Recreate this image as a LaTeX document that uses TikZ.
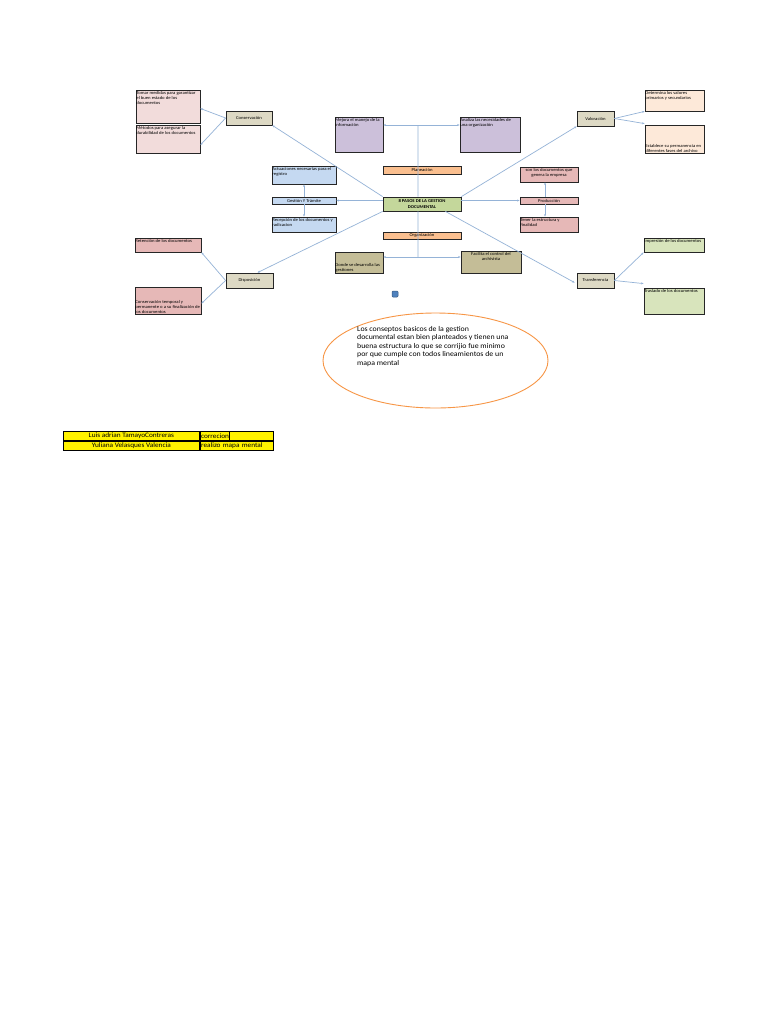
\documentclass[tikz,border=0pt]{standalone}
\usepackage{fontspec}
\setmainfont{Carlito}
\newfontfamily\wideC[FakeStretch=1.08]{Carlito}
\usetikzlibrary{arrows.meta}
\definecolor{cTan}{HTML}{DDD9C4}
\definecolor{cPinkL}{HTML}{F2DCDB}
\definecolor{cLav}{HTML}{CCC0DA}
\definecolor{cOrange}{HTML}{FABF8F}
\definecolor{cBlue}{HTML}{C5D9F1}
\definecolor{cGreen}{HTML}{C4D79B}
\definecolor{cKhaki}{HTML}{C4BD97}
\definecolor{cPeach}{HTML}{FDE9D9}
\definecolor{cPink}{HTML}{E6B8B7}
\definecolor{cGreenL}{HTML}{D8E4BC}
\definecolor{cLine}{HTML}{95B3D7}
\definecolor{cEll}{HTML}{F79646}
\definecolor{cSq}{HTML}{4F81BD}
\tikzset{
  bf/.style={font=\wideC\fontsize{4.4}{5}\selectfont},
  box/.style={draw=black!85, line width=0.8bp, inner sep=0pt, rectangle},
  tl/.style={bf, anchor=north west, inner xsep=0.6bp, inner ysep=1.2bp, align=left},
  bl/.style={bf, anchor=south west, inner xsep=0.6bp, inner ysep=0.8bp, align=left},
  ctr/.style={bf, anchor=center, inner sep=0pt, align=center},
  ct/.style={bf, anchor=north, inner xsep=0.6bp, inner ysep=1.2bp, align=center},
  conn/.style={draw=cLine, line width=0.7bp, -{Stealth[length=2.5bp,width=2bp]}},
  plain/.style={draw=cLine, line width=0.7bp},
  cell/.style={draw=black, line width=0.7bp, fill=yellow, inner sep=0pt, minimum height=9bp, font=\wideC\fontsize{6.8}{8}\selectfont},
}
\begin{document}
\begin{tikzpicture}[x=1bp,y=-1bp]
\useasboundingbox[fill=white] (0,0) rectangle (768,1024);

% ---------- boxes ----------
\node[box, fill=cTan, minimum width=46bp, minimum height=14bp] (cons) at (249,118) {};
\node[ctr] (cons-t) at (cons.center) {Conservación};
\node[box, fill=cPinkL, minimum width=64bp, minimum height=33bp] (tomar) at (168,106.5) {};
\node[tl] (tomar-t) at (tomar.north west) {Tomar medidas para garantizar\\el buen estado de los\\documentos};
\node[box, fill=cPinkL, minimum width=64bp, minimum height=28bp] (metodos) at (168,139) {};
\node[tl] (metodos-t) at (metodos.north west) {Métodos para asegurar la\\durabilidad de los documentos};

\node[box, fill=cLav, minimum width=48bp, minimum height=35bp] (mejora) at (359,134.5) {};
\node[tl] (mejora-t) at (mejora.north west) {Mejora el manejo de la\\información};
\node[box, fill=cLav, minimum width=60bp, minimum height=35bp] (analiza) at (490,134.5) {};
\node[tl] (analiza-t) at (analiza.north west) {Analiza las necesidades de\\una organización};

\node[box, fill=cOrange, minimum width=78bp, minimum height=8bp] (plan) at (422,170) {};
\node[ctr] (plan-t) at (plan.center) {Planeación};

\node[box, fill=cBlue, minimum width=64bp, minimum height=18bp] (actu) at (304,175) {};
\node[tl] (actu-t) at (actu.north west) {Actuaciones necesarias para el\\registro};
\node[box, fill=cBlue, minimum width=64bp, minimum height=7bp] (gest) at (304,200.5) {};
\node[ctr] (gest-t) at (gest.center) {Gestión Y Trámite};
\node[box, fill=cBlue, minimum width=64bp, minimum height=15bp] (recep) at (304,224.5) {};
\node[tl] (recep-t) at (recep.north west) {Recepción de los documentos y\\radicacion};

\node[box, fill=cGreen, minimum width=78bp, minimum height=14bp] (central) at (422,204) {};
\node[ctr, font=\wideC\fontsize{4.4}{5.2}\selectfont\bfseries] (central-t) at (central.center) {8 PASOS DE LA GESTION\\DOCUMENTAL};

\node[box, fill=cOrange, minimum width=78bp, minimum height=7bp] (org) at (422,235.5) {};
\node[ctr] (org-t) at (org.center) {Organización};

\node[box, fill=cKhaki, minimum width=48bp, minimum height=21bp] (donde) at (359,262.5) {};
\node[bl] (donde-t) at (donde.south west) {Donde se desarrolla las\\gestiones};
\node[box, fill=cKhaki, minimum width=60bp, minimum height=22bp] (facil) at (491,262) {};
\node[ct] (facil-t) at (facil.north) {Facilita el control del\\archivista};

\node[box, fill=cTan, minimum width=37bp, minimum height=15bp] (valor) at (595.5,118.5) {};
\node[ctr] (valor-t) at (valor.center) {Valoración};
\node[box, fill=cPeach, minimum width=59bp, minimum height=21bp] (determ) at (674.5,100.5) {};
\node[tl] (determ-t) at (determ.north west) {Determina los valores\\primarios y secundarios};
\node[box, fill=cPeach, minimum width=59bp, minimum height=28bp] (establ) at (674.5,139) {};
\node[bl] (establ-t) at (establ.south west) {Establece su permanencia en\\diferentes fases del archivo};

\node[box, fill=cPink, minimum width=58bp, minimum height=15bp] (sonlos) at (549,174.5) {};
\node[ct] (sonlos-t) at (sonlos.north) {son los documentos que\\genera la empresa};
\node[box, fill=cPink, minimum width=58bp, minimum height=7bp] (prod) at (549,200.5) {};
\node[ctr] (prod-t) at (prod.center) {Producción};
\node[box, fill=cPink, minimum width=58bp, minimum height=15bp] (tener) at (549,224.5) {};
\node[tl] (tener-t) at (tener.north west) {Tener la estructura y\\finalidad};

\node[box, fill=cTan, minimum width=37bp, minimum height=15bp] (transf) at (595.5,280.5) {};
\node[ctr] (transf-t) at (transf.center) {Transferencia};
\node[box, fill=cGreenL, minimum width=60bp, minimum height=14bp] (impres) at (674,245) {};
\node[tl] (impres-t) at (impres.north west) {Impresión de los documentos};
\node[box, fill=cGreenL, minimum width=60bp, minimum height=26bp] (trasl) at (674,301) {};
\node[tl] (trasl-t) at (trasl.north west) {Traslado de los documentos};

\node[box, fill=cTan, minimum width=47bp, minimum height=15bp] (dispo) at (249.5,280.5) {};
\node[ctr] (dispo-t) at (dispo.center) {Disposición};
\node[box, fill=cPink, minimum width=66bp, minimum height=14bp] (reten) at (168,245) {};
\node[tl] (reten-t) at (reten.north west) {Retención de los documentos};
\node[box, fill=cPink, minimum width=66bp, minimum height=27bp] (ctemp) at (168,300.5) {};
\node[bl] (ctemp-t) at (ctemp.south west) {Conservación temporal y\\permanente o a su finalización de\\los documentos};

% small square
\node[draw=cSq!70!black, fill=cSq, line width=0.5bp, rounded corners=1bp, minimum width=6bp, minimum height=6bp, inner sep=0pt] (sq) at (395,294) {};

% ---------- connectors ----------
\draw[conn] (central.north west) -- (cons.south east);
\draw[conn] (cons.west) -- ([yshift=-2bp]tomar.east);
\draw[conn] (cons.west) -- ([yshift=-6bp]metodos.east);

\draw[conn] (central.north east) -- (valor.south west);
\draw[conn] (valor.east) -- (determ.south west);
\draw[conn] (valor.east) -- ([yshift=1bp]establ.north west);

\draw[conn] (central.south west) -- ([xshift=8bp]dispo.north);
\draw[conn] (dispo.west) -- (reten.south east);
\draw[conn] (dispo.west) -- ([yshift=-3bp]ctemp.east);

\draw[conn] ([xshift=-16bp]central.south east) -- ([xshift=-2bp,yshift=-10bp]transf.north west);
\draw[conn] (transf.east) -- (impres.south west);
\draw[conn] (transf.east) -- ([yshift=4bp]trasl.north west);

\draw[conn] (central.west |- gest.east) -- (gest.east);
\draw[conn] (gest.north) -- (actu.south);
\draw[conn] (gest.south) -- (recep.north);

\draw[conn] (central.east |- prod.west) -- (prod.west);
\draw[conn] ([xshift=-4bp]prod.north) -- ([xshift=-4bp]sonlos.south);
\draw[conn] ([xshift=-4bp]prod.south) -- ([xshift=-4bp]tener.north);

\coordinate (pj) at (418,125);
\draw[plain] ([xshift=-4bp]central.north) -- (pj);
\draw[conn] (pj) -- (mejora.east |- pj);
\draw[conn] (pj) -- (analiza.west |- pj);

\coordinate (oj) at (418,257);
\draw[plain] ([xshift=-4bp]central.south) -- (oj);
\draw[conn] (oj) -- (donde.east |- oj);
\draw[conn] (oj) -- (facil.west |- oj);

% ---------- ellipse ----------
\draw[draw=cEll, line width=0.9bp] (435.5,360.5) ellipse [x radius=112.5bp, y radius=47.5bp];
\node[anchor=north west, inner sep=0pt, align=left, font=\wideC\fontsize{7.3}{8.6}\selectfont] (ell-t) at (357,326) {Los conseptos basicos de la gestion\\documental estan bien planteados y tienen una\\buena estructura lo que se corrijio fue minimo\\por que cumple con todos lineamientos de un\\mapa mental};

% ---------- table ----------
\node[cell, minimum width=136bp, anchor=north west] (r1a) at (63,431) {Luis adrian TamayoContreras};
\node[cell, minimum width=73bp, anchor=north west, align=left, text width=71bp, inner xsep=1bp] (r1b) at (r1a.north east) {correcion};
\node[cell, minimum width=136bp, anchor=north west] (r2a) at (r1a.south west) {Yuliana Velasques Valencia};
\node[cell, minimum width=73bp, anchor=north west, align=left, text width=71bp, inner xsep=1bp] (r2b) at (r2a.north east) {realizo mapa mental};
\draw[line width=0.6bp] (229,432) -- (229,440);
\end{tikzpicture}
\end{document}
